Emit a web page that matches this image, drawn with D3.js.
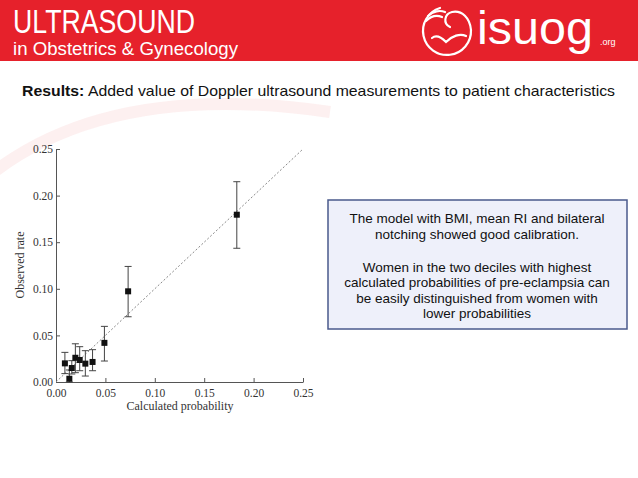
<!DOCTYPE html>
<html lang="en">
<head>
  <meta charset="UTF-8">
  <title>Calibration plot</title>
  <script src="https://cdnjs.cloudflare.com/ajax/libs/d3/7.8.5/d3.min.js"></script>
  <style>
    * { margin: 0; padding: 0; }
    body { background: #fff; width: 638px; height: 478px; overflow: hidden; }
    .tick text { font-family: "Liberation Serif", "DejaVu Serif", serif; font-size: 11.5px; fill: #333; }
    .axis path, .axis line { stroke: #555; }
  </style>
</head>
<body>
<div id="chart"></div>
<script>
  // Data: calculated probability vs observed rate (with 95% CI)
  const calcProb = [0.009, 0.0135, 0.016, 0.0196, 0.024, 0.0297, 0.037, 0.049, 0.073, 0.183];
  const observed = [0.020, 0.0035, 0.015, 0.026, 0.0236, 0.0197, 0.0215, 0.042, 0.0973, 0.1795];
  const ciLow = [0.009, 0.000, 0.0086, 0.010, 0.0121, 0.0064, 0.0121, 0.0225, 0.070, 0.1435];
  const ciHigh = [0.0318, 0.0129, 0.0229, 0.041, 0.0379, 0.0336, 0.0347, 0.0597, 0.124, 0.2149];
  const ticks = [0, 0.05, 0.10, 0.15, 0.20, 0.25];

  const boxLines = [
    "The model with BMI, mean RI and bilateral",
    "notching showed good calibration.",
    "",
    "Women in the two deciles with highest",
    "calculated probabilities of pre-eclampsia can",
    "be easily distinguished from women with",
    "lower probabilities"
  ];

  const W = 638, H = 478;
  const svg = d3.select("#chart").append("svg")
    .attr("width", W).attr("height", H);

  // faint watermark arc
  svg.append("path")
    .attr("d", "M -10 175 Q 110 80 330 112")
    .attr("fill", "none")
    .attr("stroke", "#fbe6e6")
    .attr("stroke-width", 12)
    .attr("opacity", 0.6);

  // header band
  svg.append("rect").attr("x", 0).attr("y", 0).attr("width", W).attr("height", 61)
    .attr("fill", "#e6212b");
  svg.append("text").attr("x", 13).attr("y", 33)
    .attr("font-family", "Liberation Sans, Arial, sans-serif").attr("font-size", 34)
    .attr("fill", "#fff").attr("textLength", 182).attr("lengthAdjust", "spacingAndGlyphs")
    .text("ULTRASOUND");
  svg.append("text").attr("x", 13).attr("y", 55)
    .attr("font-family", "Liberation Sans, Arial, sans-serif").attr("font-size", 18)
    .attr("fill", "#fff").attr("textLength", 225).attr("lengthAdjust", "spacingAndGlyphs")
    .text("in Obstetrics & Gynecology");

  // isuog logo
  const logo = svg.append("g").attr("fill", "none").attr("stroke", "#fff")
    .attr("stroke-width", 2.2).attr("stroke-linecap", "round");
  logo.append("path").attr("d", "M 440 8 A 24 24 0 1 0 471 30 C 470 18 462 10 452 12 C 444 14 443 24 450 27");
  logo.append("path").attr("d", "M 428 16 C 433 11 440 10 445 12");
  logo.append("path").attr("d", "M 426 21 C 431 16 437 15 442 17");
  logo.append("path").attr("d", "M 432 38 C 437 34 442 38 446 42 C 452 36 460 33 466 36");
  svg.append("text").attr("x", 477).attr("y", 44)
    .attr("font-family", "Liberation Sans, Arial, sans-serif").attr("font-size", 46)
    .attr("fill", "#fff").attr("textLength", 116).attr("lengthAdjust", "spacingAndGlyphs")
    .text("isuog");
  svg.append("text").attr("x", 600).attr("y", 45)
    .attr("font-family", "Liberation Sans, Arial, sans-serif").attr("font-size", 9)
    .attr("fill", "#fff").text(".org");

  // title
  const title = svg.append("text").attr("x", 22).attr("y", 96)
    .attr("font-family", "Liberation Sans, Arial, sans-serif").attr("font-size", 15)
    .attr("fill", "#111").attr("textLength", 593).attr("lengthAdjust", "spacingAndGlyphs");
  title.append("tspan").attr("font-weight", "bold").text("Results:");
  title.append("tspan").text(" Added value of Doppler ultrasound measurements to patient characteristics");

  // plot
  const x = d3.scaleLinear().domain([0, 0.25]).range([56, 303]);
  const y = d3.scaleLinear().domain([0, 0.25]).range([382, 149]);

  svg.append("g").attr("class", "axis")
    .attr("transform", `translate(0,${y(0)})`)
    .call(d3.axisBottom(x).tickValues(ticks).tickFormat(d3.format(".2f")).tickSize(-4).tickSizeOuter(0).tickPadding(7));
  svg.append("g").attr("class", "axis")
    .attr("transform", `translate(${x(0)},0)`)
    .call(d3.axisLeft(y).tickValues(ticks).tickFormat(d3.format(".2f")).tickSize(-4).tickSizeOuter(0).tickPadding(3));

  // identity line
  svg.append("line")
    .attr("x1", x(0)).attr("y1", y(0)).attr("x2", x(0.25)).attr("y2", y(0.25))
    .attr("stroke", "#888").attr("stroke-width", 1).attr("stroke-dasharray", "2,2");

  const pts = calcProb.map((p, i) => ({ p, o: observed[i], lo: ciLow[i], hi: ciHigh[i] }));
  const eb = svg.append("g").attr("stroke", "#444").attr("stroke-width", 1);
  eb.selectAll(".v").data(pts).join("line")
    .attr("x1", d => x(d.p)).attr("x2", d => x(d.p))
    .attr("y1", d => y(d.lo)).attr("y2", d => y(d.hi));
  eb.selectAll(".ct").data(pts).join("line")
    .attr("x1", d => x(d.p) - 3.5).attr("x2", d => x(d.p) + 3.5)
    .attr("y1", d => y(d.hi)).attr("y2", d => y(d.hi));
  eb.selectAll(".cb").data(pts).join("line")
    .attr("x1", d => x(d.p) - 3.5).attr("x2", d => x(d.p) + 3.5)
    .attr("y1", d => y(d.lo)).attr("y2", d => y(d.lo));
  svg.append("g").selectAll("rect").data(pts).join("rect")
    .attr("x", d => x(d.p) - 3).attr("y", d => y(d.o) - 3)
    .attr("width", 6).attr("height", 6).attr("fill", "#111");

  svg.append("text").attr("x", 180).attr("y", 410).attr("text-anchor", "middle")
    .attr("font-family", "Liberation Serif, serif").attr("font-size", 12).attr("fill", "#333")
    .text("Calculated probability");
  svg.append("text").attr("transform", "translate(24,265) rotate(-90)").attr("text-anchor", "middle")
    .attr("font-family", "Liberation Serif, serif").attr("font-size", 12).attr("fill", "#333")
    .text("Observed rate");

  // text box
  svg.append("rect").attr("x", 328).attr("y", 200).attr("width", 299).attr("height", 129)
    .attr("fill", "#eef0fa").attr("stroke", "#4a5a8c").attr("stroke-width", 1.5);
  const lineY = [223, 239, 255, 272, 287, 303, 318];
  svg.append("g").selectAll("text").data(boxLines).join("text")
    .attr("x", 477).attr("y", (d, i) => lineY[i]).attr("text-anchor", "middle")
    .attr("font-family", "Liberation Sans, Arial, sans-serif").attr("font-size", 13.5)
    .attr("fill", "#111").text(d => d);
</script>
</body>
</html>
